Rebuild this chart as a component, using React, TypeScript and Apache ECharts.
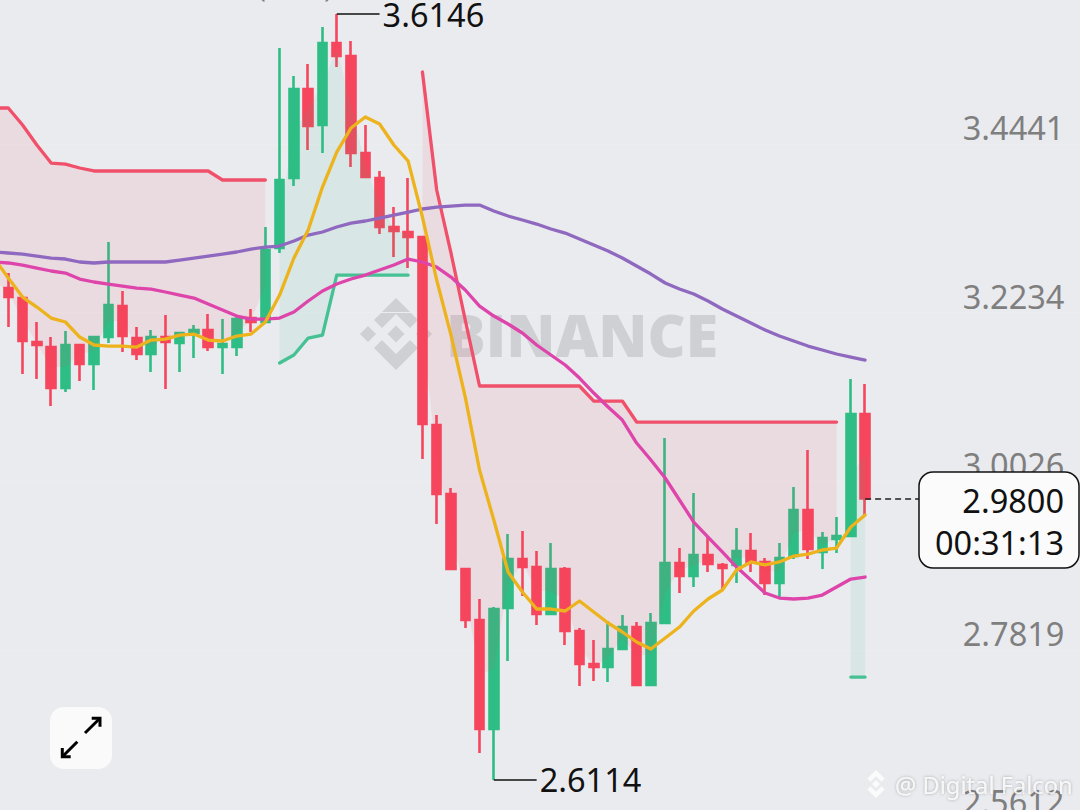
import React, { useEffect, useRef } from "react";
import * as echarts from "echarts";

const FONT = "'Noto Sans', sans-serif";
const BG = "#EAEBEF";
const RED = "#F6465D";
const GREEN = "#2EBD85";

const opens = [3.2779, 3.2557, 3.2426, 3.1850, 3.1784, 3.1247, 3.1811, 3.1562, 3.1915, 3.2321, 3.1902, 3.1693, 3.1915, 3.1837, 3.1968, 3.2007, 3.1784, 3.1784, 3.2164, 3.2112, 3.3081, 3.3998, 3.5163, 3.4692, 3.5766, 3.5596, 3.4325, 3.3998, 3.3356, 3.3291, 3.3225, 3.0763, 2.9859, 2.8877, 2.8209, 2.6781, 2.8366, 2.9008, 2.8903, 2.8287, 2.8877, 2.8065, 2.7633, 2.7593, 2.7829, 2.8117, 2.7358, 2.8170, 2.8956, 2.8785, 2.9060, 2.8930, 2.8930, 2.9113, 2.8969, 2.8693, 2.9047, 2.9649, 2.9100, 2.9270, 2.9309, 3.0907];
const closes = [3.2531, 3.2439, 3.1863, 3.1811, 3.1247, 3.1811, 3.1562, 3.1915, 3.2334, 3.1928, 3.1693, 3.1915, 3.1850, 3.1968, 3.2007, 3.1784, 3.1824, 3.2151, 3.2112, 3.3055, 3.3972, 3.5163, 3.4679, 3.5766, 3.5596, 3.4325, 3.4011, 3.3356, 3.3304, 3.3225, 3.0776, 2.9859, 2.8877, 2.8209, 2.6781, 2.8353, 2.9008, 2.8903, 2.8287, 2.8877, 2.8065, 2.7633, 2.7593, 2.7829, 2.8117, 2.7358, 2.8170, 2.8956, 2.8785, 2.9060, 2.8943, 2.8890, 2.9113, 2.8969, 2.8693, 2.9021, 2.9649, 2.9139, 2.9283, 2.9309, 3.0907, 2.9800];
const lows = [3.2400, 3.2046, 3.1431, 3.1365, 3.1012, 3.1195, 3.1339, 3.1221, 3.1837, 3.1719, 3.1614, 3.1457, 3.1234, 3.1457, 3.1640, 3.1732, 3.1431, 3.1667, 3.1981, 3.2112, 3.3016, 3.3893, 3.4365, 3.4325, 3.5452, 3.4142, 3.3998, 3.3265, 3.2963, 3.2819, 3.0317, 2.9466, 2.8864, 2.8104, 2.6467, 2.6114, 2.7672, 2.8523, 2.8143, 2.8287, 2.7881, 2.7345, 2.7410, 2.7397, 2.7816, 2.7345, 2.7345, 2.8170, 2.8563, 2.8641, 2.8838, 2.8602, 2.8693, 2.8838, 2.8536, 2.8510, 2.9008, 2.9008, 2.8877, 2.9087, 2.9309, 2.9584];
const highs = [3.2900, 3.2753, 3.2426, 3.2112, 3.1915, 3.1994, 3.1811, 3.1928, 3.3160, 3.2518, 3.2046, 3.2007, 3.2203, 3.1981, 3.2073, 3.2217, 3.2151, 3.2177, 3.2282, 3.3356, 3.5700, 3.5334, 3.5491, 3.5975, 3.6146, 3.5792, 3.4692, 3.4090, 3.3618, 3.3998, 3.3238, 3.0894, 2.9938, 2.8890, 2.8484, 2.8379, 2.9335, 2.9375, 2.9113, 2.9217, 2.8903, 2.8104, 2.7947, 2.8196, 2.8274, 2.8183, 2.8300, 3.0593, 2.9152, 2.9872, 2.9296, 2.8956, 2.9414, 2.9349, 2.9021, 2.9217, 2.9951, 3.0435, 2.9362, 2.9558, 3.1365, 3.1300];

const ema7 = [3.2950, 3.2688, 3.2439, 3.2308, 3.2164, 3.2112, 3.1915, 3.1811, 3.1797, 3.1797, 3.1784, 3.1876, 3.1889, 3.1941, 3.1954, 3.1876, 3.1863, 3.1928, 3.1954, 3.2112, 3.2465, 3.2950, 3.3317, 3.3880, 3.4338, 3.4653, 3.4797, 3.4705, 3.4430, 3.4220, 3.3487, 3.2662, 3.1941, 3.1129, 3.0173, 2.9518, 2.8838, 2.8576, 2.8353, 2.8353, 2.8327, 2.8458, 2.8314, 2.8170, 2.8052, 2.7921, 2.7829, 2.7973, 2.8117, 2.8327, 2.8484, 2.8602, 2.8864, 2.8969, 2.8930, 2.8969, 2.9047, 2.9073, 2.9126, 2.9152, 2.9427, 2.9584];
const ema25 = [3.2898, 3.2885, 3.2858, 3.2819, 3.2780, 3.2753, 3.2675, 3.2636, 3.2609, 3.2583, 3.2557, 3.2544, 3.2505, 3.2465, 3.2426, 3.2347, 3.2269, 3.2190, 3.2151, 3.2151, 3.2164, 3.2243, 3.2387, 3.2518, 3.2609, 3.2675, 3.2727, 3.2793, 3.2858, 3.2937, 3.2898, 3.2832, 3.2701, 3.2531, 3.2321, 3.2190, 3.2086, 3.1968, 3.1811, 3.1680, 3.1549, 3.1378, 3.1182, 3.0999, 3.0828, 3.0527, 3.0304, 3.0069, 2.9781, 2.9492, 2.9296, 2.9100, 2.8903, 2.8733, 2.8563, 2.8497, 2.8484, 2.8497, 2.8536, 2.8641, 2.8746, 2.8772];
const ema99 = [3.3029, 3.3016, 3.3002, 3.2976, 3.2950, 3.2937, 3.2898, 3.2885, 3.2898, 3.2898, 3.2898, 3.2898, 3.2898, 3.2924, 3.2950, 3.2976, 3.3002, 3.3029, 3.3068, 3.3094, 3.3107, 3.3173, 3.3251, 3.3291, 3.3356, 3.3408, 3.3435, 3.3474, 3.3513, 3.3552, 3.3592, 3.3618, 3.3631, 3.3644, 3.3644, 3.3566, 3.3500, 3.3448, 3.3395, 3.3330, 3.3277, 3.3199, 3.3120, 3.3042, 3.2950, 3.2845, 3.2740, 3.2623, 3.2544, 3.2478, 3.2387, 3.2282, 3.2190, 3.2099, 3.2007, 3.1928, 3.1863, 3.1797, 3.1745, 3.1693, 3.1653, 3.1614];

const _ = null;
const trendDown = [3.4915, 3.4915, 3.4692, 3.4430, 3.4194, 3.4181, 3.4129, 3.4090, 3.4090, 3.4090, 3.4090, 3.4090, 3.4090, 3.4090, 3.4090, 3.4090, 3.3972, 3.3972, 3.3972, 3.3972, _, _, _, _, _, _, _, _, _, _, 3.5386, 3.3841, 3.3016, 3.2138, 3.1274, 3.1274, 3.1274, 3.1274, 3.1274, 3.1274, 3.1274, 3.1274, 3.1077, 3.1077, 3.1077, 3.0802, 3.0802, 3.0802, 3.0802, 3.0802, 3.0802, 3.0802, 3.0802, 3.0802, 3.0802, 3.0802, 3.0802, 3.0802, 3.0802, 3.0802, _, _];
const trendUp = [_, _, _, _, _, _, _, _, _, _, _, _, _, _, _, _, _, _, _, _, 3.1575, 3.1680, 3.1902, 3.1941, 3.2727, 3.2727, 3.2727, 3.2727, 3.2727, 3.2727, _, _, _, _, _, _, _, _, _, _, _, _, _, _, _, _, _, _, _, _, _, _, _, _, _, _, _, _, _, _, 2.7462, 2.7462];

const axisLabels = [2.5612, 2.7819, 3.0026, 3.2234, 3.4441];
const highLabel = "3.6146";
const lowLabel = "2.6114";
const lastPrice = 2.98;
const lastPriceLabel = "2.9800";
const countdown = "00:31:13";
const watermark = "BINANCE";
const credit = "@ Digital Falcon";

const SLOTS = 77;
const categories = Array.from({ length: SLOTS }, (_v, i) => String(i));

type Run = { band: (number | null)[]; start: number; end: number; fill: string };
function findRuns(band: (number | null)[], fill: string): Run[] {
  const runs: Run[] = [];
  let start = -1;
  band.forEach((v, i) => {
    if (v !== null && start < 0) start = i;
    if (v !== null && (i === band.length - 1 || band[i + 1] === null)) {
      runs.push({ band, start, end: i, fill });
      start = -1;
    }
  });
  return runs;
}
const fillRuns = [
  ...findRuns(trendDown, "rgba(246,70,93,0.09)"),
  ...findRuns(trendUp, "rgba(46,189,133,0.09)"),
];

function line(name: string, data: (number | null)[], color: string, z = 5) {
  return {
    name,
    type: "line",
    data,
    z,
    symbol: "none",
    silent: true,
    connectNulls: false,
    lineStyle: { color, width: 3.3, join: "round", cap: "round" },
  };
}

function tagLine(from: number, to: number, price: number, text: string) {
  return [
    {
      coord: [from, price],
      lineStyle: { color: "#111", width: 1.5, type: "solid" },
      label: {
        show: true,
        position: "end",
        formatter: text,
        color: "#111",
        fontFamily: FONT,
        fontSize: 32.5,
        distance: 3,
      },
    },
    { coord: [to, price] },
  ];
}

const diamond = (cx: number, cy: number, r: number) => ({
  type: "polygon",
  z: -1,
  shape: { points: [[cx, cy - r], [cx + r, cy], [cx, cy + r], [cx - r, cy]] },
  style: { fill: "#CFD0D4" },
});

const chevron = (cx: number, cy: number, dir: number, fill: string, z: number, s = 1) => ({
  type: "polygon",
  z,
  shape: {
    points: [
      [cx, cy + dir * 36 * s],
      [cx + 22 * s, cy + dir * 14 * s],
      [cx + 14 * s, cy + dir * 6 * s],
      [cx, cy + dir * 20 * s],
      [cx - 14 * s, cy + dir * 6 * s],
      [cx - 22 * s, cy + dir * 14 * s],
    ],
  },
  style: { fill },
});

export default function App() {
  const ref = useRef<HTMLDivElement>(null);
  useEffect(() => {
    document.body.style.margin = "0";
    document.body.style.background = BG;
    const chart = echarts.init(ref.current!, undefined, { renderer: "svg" });
    const candles = opens.map((o, i) => [o, closes[i], lows[i], highs[i]]);
    const mid = opens.map((o, i) => (o + closes[i]) / 2);
    chart.setOption({
      animation: false,
      backgroundColor: BG,
      grid: {
        left: -13.12,
        top: 0,
        width: 1099.56,
        height: 818.3,
        containLabel: false,
        outerBoundsMode: "none",
      },
      xAxis: {
        type: "category",
        data: categories,
        boundaryGap: true,
        axisLine: { show: false },
        axisTick: { show: false },
        axisLabel: { show: false },
        splitLine: { show: false },
      },
      yAxis: {
        type: "value",
        position: "right",
        min: 2.5612,
        max: 3.63294,
        axisLine: { show: false },
        axisTick: { show: false, customValues: axisLabels },
        splitLine: { show: true, lineStyle: { color: "#EDEDEF", width: 1 } },
        axisLabel: {
          customValues: axisLabels,
          inside: true,
          margin: 22,
          color: "#7F7F7F",
          fontFamily: FONT,
          fontSize: 32.5,
          verticalAlign: "bottom",
          padding: [0, 0, 0, 0],
          formatter: (v: number) => v.toFixed(4),
        },
      },
      series: [
        {
          name: "Candles",
          type: "candlestick",
          data: candles,
          z: 2,
          barWidth: 9,
          silent: true,
          itemStyle: {
            color: GREEN,
            color0: RED,
            borderColor: GREEN,
            borderColor0: RED,
            borderColorDoji: RED,
            borderWidth: 2.6,
          },
          markLine: {
            silent: true,
            symbol: "none",
            animation: false,
            data: [
              tagLine(24, 27, highs[24], highLabel),
              tagLine(35, 38, lows[35], lowLabel),
              [
                {
                  coord: [61, lastPrice],
                  lineStyle: { color: "#222", width: 1.5, type: [6, 4] },
                  label: { show: false },
                },
                { coord: [65, lastPrice] },
              ],
            ],
          },
        },
        {
          name: "Trend fill",
          type: "custom",
          z: 3,
          silent: true,
          clip: true,
          encode: { x: 0, y: 1 },
          data: fillRuns.map((r) => [r.start, r.band[r.start]]),
          renderItem: (params: any, api: any) => {
            const r = fillRuns[params.dataIndex];
            const points: number[][] = [];
            for (let i = r.start; i <= r.end; i++) points.push(api.coord([i, r.band[i]]));
            for (let i = r.end; i >= r.start; i--) points.push(api.coord([i, mid[i]]));
            return { type: "polygon", shape: { points }, style: { fill: r.fill } };
          },
        },
        line("Trend down", trendDown, "#F0506A", 4),
        line("Trend up", trendUp, "#45C193", 4),
        line("EMA 99", ema99, "#8F68BF"),
        line("EMA 25", ema25, "#DE45AB"),
        line("EMA 7", ema7, "#EDB31C"),
      ],
      graphic: {
        elements: [
          diamond(396, 334, 8.5),
          diamond(368, 334, 8),
          diamond(424, 334, 8),
          chevron(396, 334, -1, "#CFD0D4", -1),
          chevron(396, 334, 1, "#CFD0D4", -1),
          {
            type: "text",
            z: -1,
            x: 446,
            y: 334,
            style: {
              text: watermark,
              fill: "#CFD0D4",
              font: `800 59px 'Open Sans', sans-serif`,
              textVerticalAlign: "middle",
            },
          },
          {
            type: "text",
            z: 1,
            x: 258,
            y: 0,
            style: {
              text: "(10, 3)",
              fill: "#7F7F7F",
              font: `26px ${FONT}`,
              textVerticalAlign: "bottom",
            },
          },
          {
            type: "rect",
            z: 100,
            shape: { x: 919, y: 472, width: 160, height: 96, r: 14 },
            style: { fill: "#FBFBFC", stroke: "#111", lineWidth: 1.5 },
          },
          {
            type: "text",
            z: 101,
            x: 1064,
            y: 500,
            style: {
              text: lastPriceLabel,
              fill: "#111",
              font: `32.5px ${FONT}`,
              textAlign: "right",
              textVerticalAlign: "middle",
            },
          },
          {
            type: "text",
            z: 101,
            x: 1064,
            y: 542,
            style: {
              text: countdown,
              fill: "#111",
              font: `32.5px ${FONT}`,
              textAlign: "right",
              textVerticalAlign: "middle",
            },
          },
          {
            type: "rect",
            z: 100,
            shape: { x: 50, y: 707, width: 62, height: 62, r: 14 },
            style: { fill: "#FAFAFB" },
          },
          {
            type: "polyline",
            z: 101,
            shape: { points: [[91.7, 718.3], [100, 718.3], [100, 726.7]] },
            style: { stroke: "#000", lineWidth: 3, fill: "none" },
          },
          {
            type: "line",
            z: 101,
            shape: { x1: 85, y1: 733, x2: 100, y2: 718.3 },
            style: { stroke: "#000", lineWidth: 3 },
          },
          {
            type: "polyline",
            z: 101,
            shape: { points: [[62.3, 748], [62.3, 756.7], [70.7, 756.7]] },
            style: { stroke: "#000", lineWidth: 3, fill: "none" },
          },
          {
            type: "line",
            z: 101,
            shape: { x1: 77.3, y1: 741.7, x2: 62.3, y2: 756.7 },
            style: { stroke: "#000", lineWidth: 3 },
          },
          chevron(876, 784, -1, "rgba(255,255,255,0.8)", 110, 0.39),
          chevron(876, 784, 1, "rgba(255,255,255,0.8)", 110, 0.39),
          {
            type: "polygon",
            z: 110,
            shape: { points: [[876, 780], [880, 784], [876, 788], [872, 784]] },
            style: { fill: "rgba(255,255,255,0.8)" },
          },
          {
            type: "text",
            z: 110,
            x: 895,
            y: 785,
            style: {
              text: credit,
              fill: "rgba(255,255,255,0.82)",
              font: `23.7px ${FONT}`,
              textVerticalAlign: "middle",
              textShadowColor: "rgba(90,90,90,0.6)",
              textShadowBlur: 3,
            },
          },
        ],
      },
    });
    return () => chart.dispose();
  }, []);
  return <div ref={ref} style={{ width: 1080, height: 810 }} />;
}
